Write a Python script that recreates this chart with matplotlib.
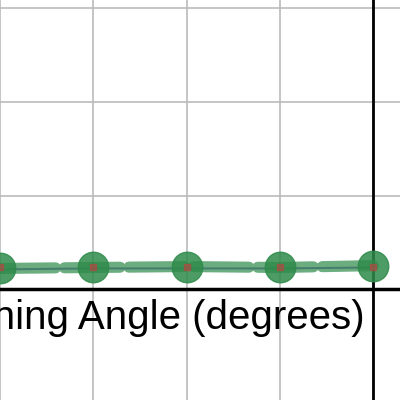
import matplotlib
matplotlib.use('Agg')
import matplotlib.pyplot as plt

plt.rcParams['font.family'] = ['Liberation Sans', 'DejaVu Sans']

angles = [0, 30, 60, 90, 120]
green_vals = [0.22, 0.23, 0.24, 0.23, 0.25]
purple_vals = [0.21, 0.22, 0.22, 0.22, 0.23]
red_vals = [0.23, 0.23, 0.24, 0.23, 0.24]

px = 30 / 93.3  # data units per pixel in x
py = 1 / 93.5   # data units per pixel in y

fig = plt.figure(figsize=(4, 4), dpi=100)
ax = fig.add_axes([0, 0, 1, 1])
ax.set_xlim(0, 400 * px)
ax.set_ylim(-111 * py, 289 * py)
ax.set_xticks([0, 30, 60, 90, 120])
ax.set_yticks([0, 1, 2, 3])
ax.grid(True, color='#bbbbbb', linewidth=1.2)
for s in ax.spines.values():
    s.set_visible(False)
ax.tick_params(length=0, labelbottom=False, labelleft=False)

ax.axhline(0, color='black', linewidth=2.5)
ax.axvline(120, color='black', linewidth=2)

ax.plot(angles, purple_vals, color='#8060c0', linewidth=1.5, zorder=3)
ax.plot(angles, green_vals, color='#2e8b4a', linewidth=8, alpha=0.7,
        linestyle=(0, (5, 0.8)), dash_capstyle='round', zorder=4)
ax.plot(angles, green_vals, 'o', color='#2e8b4a', markersize=22, alpha=0.85, zorder=5)
ax.plot(angles, red_vals, 's', color='#c04040', markersize=5, alpha=0.6, zorder=6)

ax.text(365 * px, -29 * py, 'Turning Angle (degrees)', ha='right', va='center',
        fontsize=29, color='black')

fig.savefig('out.png', dpi=100)
